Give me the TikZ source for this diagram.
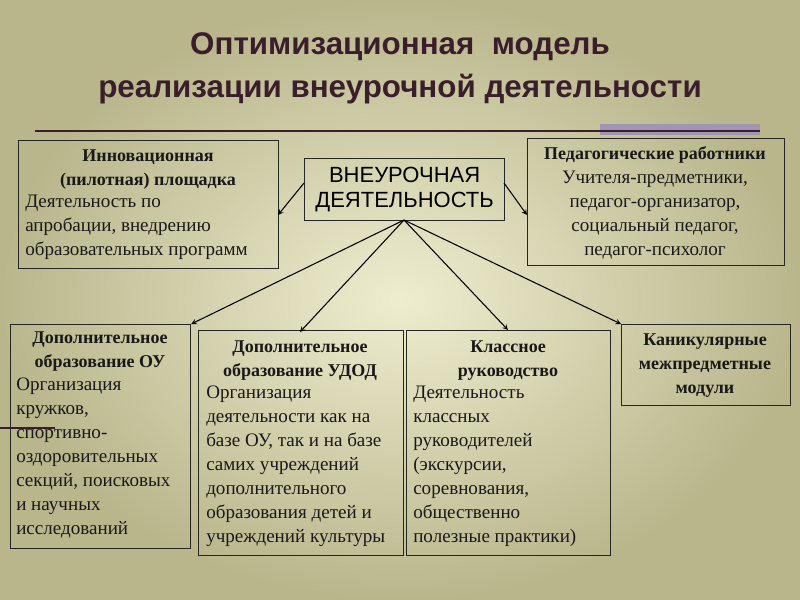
\documentclass[tikz,border=0pt]{standalone}
\usepackage{fontspec}
\setmainfont{Liberation Serif}
\setsansfont{Liberation Sans}
\begin{document}
\begin{tikzpicture}[x=0.75pt,y=-0.75pt,
  box/.style={draw=black!85,line width=0.9pt,anchor=north west,inner sep=0pt},
  txt/.style={font=\fontsize{14.3}{18}\selectfont,align=center,inner sep=0pt,text=black!90},
  btxt/.style={font=\bfseries\fontsize{13.5}{18}\selectfont,align=center,inner sep=0pt,text=black!90},
  ltxt/.style={font=\fontsize{14.3}{18}\selectfont,align=left,inner sep=0pt,anchor=north west,text=black!90},
  arr/.style={-stealth,line width=0.8pt}]
\definecolor{bgo}{HTML}{B9B68C}\definecolor{bgi}{HTML}{EEEDCF}\definecolor{ttl}{HTML}{3A1E2C}
\shade[inner color=bgi,outer color=bgo] (0,0) rectangle (800,600);
\useasboundingbox (0,0) rectangle (800,600);
\node[font=\sffamily\bfseries\fontsize{23.5}{32}\selectfont,text=ttl,align=center] (title) at (400,68) {Оптимизационная\ \ модель\\ реализации внеурочной деятельности};
\fill[fill={rgb,255:red,160;green,150;blue,180}] (600,124) rectangle (760,135);
\draw[ttl,line width=2.2pt] (35,131) -- (760,131);
\draw[ttl,line width=2pt] (0,428) -- (55,428);
% boxes
\node[box,minimum width=260*0.75pt,minimum height=128*0.75pt] (b0) at (18,140) {};
\node[box,minimum width=200*0.75pt,minimum height=62*0.75pt] (c) at (304,158) {};
\node[box,minimum width=257*0.75pt,minimum height=127*0.75pt] (b5) at (527,138) {};
\node[box,minimum width=180*0.75pt,minimum height=224*0.75pt] (b1) at (10,324) {};
\node[box,minimum width=205*0.75pt,minimum height=225*0.75pt] (b2) at (198,330) {};
\node[box,minimum width=204*0.75pt,minimum height=225*0.75pt] (b3) at (406,330) {};
\node[box,minimum width=169*0.75pt,minimum height=81*0.75pt] (b4) at (621,324) {};
% texts
\node[font=\sffamily\fontsize{16.5}{19}\selectfont,align=center] (ct) at (c.center) {ВНЕУРОЧНАЯ\\ДЕЯТЕЛЬНОСТЬ};
\node[btxt] (t0a) at (148,170) {Инновационная\\(пилотная) площадка};
\node[ltxt] (t0b) at (25,195) {Деятельность по\\апробации, внедрению\\образовательных программ};
\node[txt,anchor=north] (t5) at (655,146) {\textbf{\fontsize{13.5}{18}\selectfont Педагогические работники}\\Учителя-предметники,\\педагог-организатор,\\социальный педагог,\\педагог-психолог};
\node[btxt] (t1a) at (100,352) {Дополнительное\\образование ОУ};
\node[ltxt] (t1b) at (16,378) {Организация\\кружков,\\спортивно-\\оздоровительных\\секций, поисковых\\и научных\\исследований};
\node[btxt] (t2a) at (300,361) {Дополнительное\\образование УДОД};
\node[ltxt] (t2b) at (206,386) {Организация\\деятельности как на\\базе ОУ, так и на базе\\самих учреждений\\дополнительного\\образования детей и\\учреждений культуры};
\node[btxt] (t3a) at (508,361) {Классное\\руководство};
\node[ltxt] (t3b) at (413,386) {Деятельность\\классных\\руководителей\\(экскурсии,\\соревнования,\\общественно\\полезные практики)};
\node[btxt] (t4) at (705,366) {Каникулярные\\межпредметные\\модули};
% arrows
\coordinate (cs) at (404,220);
\draw[arr] (cs) -- (b1.north east);
\draw[arr] (cs) -- (300,332);
\draw[arr] (cs) -- (508,330);
\draw[arr] (cs) -- (b4.north west);
\coordinate (cl) at (304,183); \coordinate (b0r) at (278,215);
\coordinate (cr) at (504,183); \coordinate (b5l) at (527,215);
\draw[arr] (cl) -- (b0r);
\draw[arr] (cr) -- (b5l);
\end{tikzpicture}
\end{document}
